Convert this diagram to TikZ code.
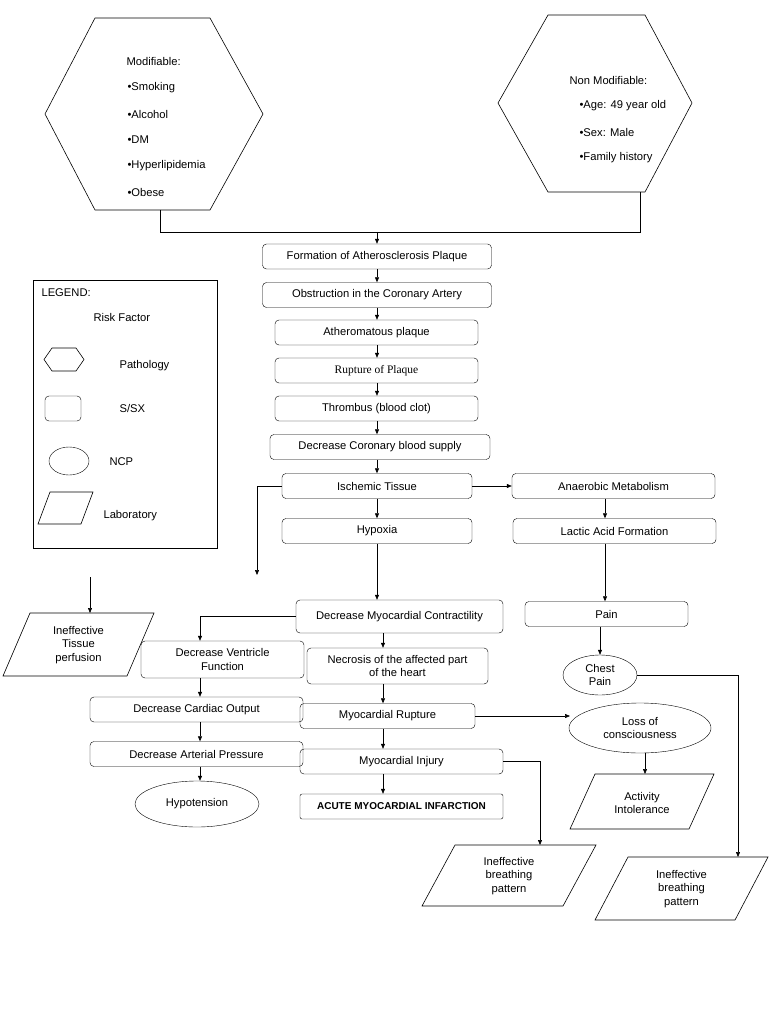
\documentclass[tikz,border=0pt]{standalone}
\usepackage{fontspec}
\setmainfont{Liberation Sans}
\usetikzlibrary{shapes.geometric,arrows.meta}
\begin{document}
\begin{tikzpicture}[x=1pt,y=-1pt,font=\fontsize{11.2}{13.5}\selectfont,
 bx/.style={draw,rounded corners=4pt,minimum height=25pt,align=center,inner sep=2pt},
 el/.style={draw,ellipse,align=center,inner sep=1pt},
 ar/.style={-{Triangle[length=5pt,width=4pt]}},
 sh/.style={draw,line width=0.6pt}]
\useasboundingbox (0,0) rectangle (768,1024);
% hexagons
\draw[sh] (95,18)--(210,18)--(263,114)--(210,210)--(95,210)--(45,114)--cycle;
\node[anchor=west] (mod) at (123,62) {Modifiable:};
\foreach \t/\y in {Smoking/88,Alcohol/114,DM/140,Hyperlipidemia/166,Obese/192}
 \node[anchor=west] (m\y) at (124,\y) {\textbullet\t};
\draw[sh] (548,15)--(645,15)--(692,103)--(645,192)--(548,192)--(498,103)--cycle;
\node[anchor=west] (nm) at (566,80) {Non Modifiable:};
\foreach \t/\y in {{Age: 49 year old}/106,{Sex: Male}/132,{Family history}/158}
 \node[anchor=west] (n\y) at (576,\y) {\textbullet\t};
\coordinate (hl) at (160,210); \coordinate (hr) at (640,192);
% main column
\node[bx,minimum width=229pt] (b1) at (377,256.5) {Formation of Atherosclerosis Plaque};
\node[bx,minimum width=229pt] (b2) at (377,295) {Obstruction in the Coronary Artery};
\node[bx,minimum width=203pt] (b3) at (376.5,332.5) {Atheromatous plaque};
\node[bx,minimum width=203pt,font=\fontsize{11.5}{13}\fontspec{Liberation Serif}] (b4) at (376.5,370.5) {Rupture of Plaque};
\node[bx,minimum width=203pt] (b5) at (376.5,408.5) {Thrombus (blood clot)};
\node[bx,minimum width=220pt] (b6) at (380,447) {Decrease Coronary blood supply};
\node[bx,minimum width=190pt] (b7) at (377,486) {Ischemic Tissue};
\node[bx,minimum width=190pt] (b8) at (377,531) {Hypoxia};
\node[bx,minimum width=203pt] (r1) at (613.5,486) {Anaerobic Metabolism};
\node[bx,minimum width=203pt] (r2) at (614.5,531) {Lactic Acid Formation};
\node[bx,minimum width=207pt,minimum height=33pt] (c1) at (399.5,616.5) {Decrease Myocardial Contractility};
\node[bx,minimum width=163pt] (p1) at (606.5,614) {Pain};
\node[el,minimum width=74pt,minimum height=40pt] (cp) at (600,675) {Chest\\Pain};
\node[bx,minimum width=163pt,minimum height=37pt] (v1) at (222.5,659.5) {Decrease Ventricle\\Function};
\node[bx,minimum width=181pt,minimum height=36pt] (n1) at (397.5,666) {Necrosis of the affected part\\of the heart};
\node[bx,minimum width=175pt] (mr) at (387.5,716) {Myocardial Rupture};
\node[bx,minimum width=203pt] (mi) at (401.5,761.5) {Myocardial Injury};
\node[draw,rounded corners=2pt,minimum width=203pt,minimum height=25pt,font=\fontsize{10}{12}\selectfont\bfseries] (ami) at (401.5,806.5) {ACUTE MYOCARDIAL INFARCTION};
\node[el,minimum width=142pt,minimum height=50pt] (lc) at (640,728) {Loss of\\consciousness};
\node[bx,minimum width=213pt] (co) at (196.5,709.5) {Decrease Cardiac Output};
\node[bx,minimum width=213pt] (ap) at (196.5,754) {Decrease Arterial Pressure};
\node[el,minimum width=124pt,minimum height=46pt] (hy) at (197,804) {Hypotension};
% parallelograms
\draw[sh] (30,613)--(154,613)--(127,676)--(3,676)--cycle;
\node[align=center] (tp) at (78.5,645) {Ineffective\\Tissue\\perfusion};
\draw[sh] (455,845)--(596,845)--(563,906)--(422,906)--cycle;
\node[align=center] (bp1) at (509,876) {Ineffective\\breathing\\pattern};
\draw[sh] (628,857)--(768,857)--(735,920)--(595,920)--cycle;
\node[align=center] (bp2) at (681.5,889) {Ineffective\\breathing\\pattern};
\draw[sh] (595,774)--(714,774)--(689,829)--(570,829)--cycle;
\node[align=center] (ai) at (642,803) {Activity\\Intolerance};
% legend
\draw[sh] (33,280) rectangle (217,548);
\node[anchor=west] (lg) at (38,293) {LEGEND:};
\node[anchor=west] (lrf) at (90,317) {Risk Factor};
\draw[sh] (52,348)--(76,348)--(84,359.5)--(76,371)--(52,371)--(44,359.5)--cycle;
\node[anchor=west] (lpa) at (116,366) {Pathology};
\node[draw,rounded corners=4pt,minimum width=36pt,minimum height=25pt] (lsx) at (63,408.5) {};
\node[anchor=west] (lsxt) at (116,408) {S/SX};
\node[draw,ellipse,minimum width=40pt,minimum height=28pt] (lnc) at (69,461) {};
\node[anchor=west] (lnct) at (106,462) {NCP};
\draw[sh] (50,492)--(93,492)--(81,524)--(38,524)--cycle;
\node[anchor=west] (llab) at (100,516) {Laboratory};
% connectors
\draw[sh] (hl)--(160,232)--(640,232)--(hr);
\coordinate (jm) at (377,232);
\draw[sh,ar] (jm)--(b1);
\foreach \a/\b in {b1/b2,b2/b3,b3/b4,b4/b5,b5/b6,b6/b7,b7/b8}
 \draw[sh,ar] (\a.south -| 377,0)--(\b.north -| 377,0);
\draw[sh,ar] (b8.south -| 377,0)--(c1.north -| 377,0);
\draw[sh,ar] (c1.south -| 383,0)--(n1.north -| 383,0);
\draw[sh,ar] (n1.south -| 383,0)--(mr.north -| 383,0);
\draw[sh,ar] (mr.south -| 383,0)--(mi.north -| 383,0);
\draw[sh,ar] (mi.south -| 383,0)--(ami.north -| 383,0);
\draw[sh,ar] (r1.south -| 605,0)--(r2.north -| 605,0);
\draw[sh,ar] (r2.south -| 605,0)--(p1.north -| 605,0);
\draw[sh,ar] (p1.south -| 600,0)--(cp.north);
\draw[sh,ar] (v1.south -| 200,0)--(co.north -| 200,0);
\draw[sh,ar] (co.south -| 200,0)--(ap.north -| 200,0);
\draw[sh,ar] (ap.south -| 200,0)--(hy.north -| 200,0);
\draw[sh,ar] (lc.south -| 645,0)--(645,774);
\draw[sh,ar] (b7)--(r1);
\coordinate (e1) at (257,575);
\draw[sh,ar] (b7.west)--(257,486)--(e1);
\coordinate (t1) at (90,577);
\draw[sh,ar] (t1)--(90,613);
\draw[sh,ar] (c1.west) -| (v1.north -| 200,0);
\draw[sh,ar] (mr.east)--(570,716);
\draw[sh,ar] (mi.east) -| (540,845);
\draw[sh,ar] (cp.east) -| (738,857);
\end{tikzpicture}
\end{document}
